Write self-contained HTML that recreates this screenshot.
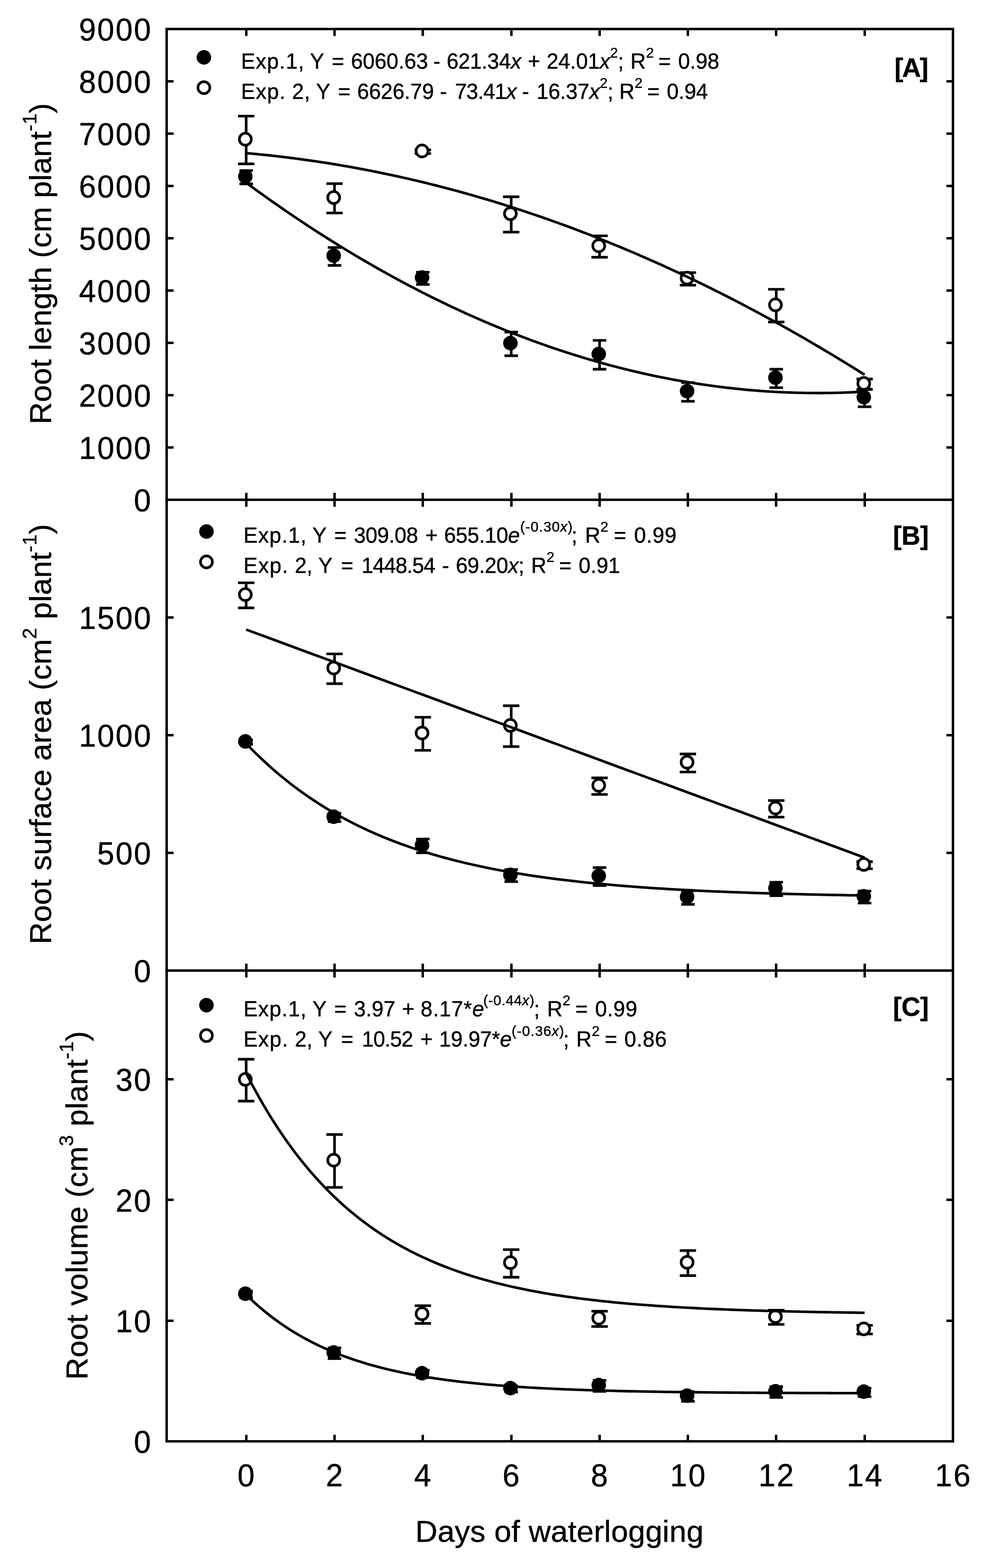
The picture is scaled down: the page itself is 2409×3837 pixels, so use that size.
<!DOCTYPE html>
<html lang="en"><head><meta charset="utf-8"><title>Root traits versus days of waterlogging</title>
<style>html,body{margin:0;padding:0;background:#fff}svg{display:block}text{font-family:"Liberation Sans",Arial,Helvetica,sans-serif;fill:#000;stroke:#000;stroke-width:0.6px;stroke-linejoin:round}.i{font-style:italic}.b{font-weight:bold}</style></head><body>
<svg width="2409" height="3837" viewBox="0 0 2409 3837">
<rect width="2409" height="3837" fill="#fff"/>
<g id="panelA">
<path d="M602.66 417.4V450M586.16 417.4H619.16M586.16 450H619.16M818.96 605.6V649.5M802.46 605.6H835.46M802.46 649.5H835.46M1035.25 666.1V696M1018.75 666.1H1051.75M1018.75 696H1051.75M1251.54 812.6V870.5M1235.04 812.6H1268.04M1235.04 870.5H1268.04M1467.83 832.9V903.5M1451.33 832.9H1484.33M1451.33 903.5H1484.33M1684.12 936.1V982M1667.62 936.1H1700.62M1667.62 982H1700.62M1900.42 903.5V948.6M1883.92 903.5H1916.92M1883.92 948.6H1916.92M2116.71 952V995.4M2100.21 952H2133.21M2100.21 995.4H2133.21" fill="none" stroke="#000" stroke-width="6.4"/>
<circle cx="600.66" cy="431.8" r="17.8" fill="#000"/>
<circle cx="816.96" cy="625.65" r="17.8" fill="#000"/>
<circle cx="1033.25" cy="679.15" r="17.8" fill="#000"/>
<circle cx="1249.54" cy="839.65" r="17.8" fill="#000"/>
<circle cx="1465.83" cy="866.3" r="17.8" fill="#000"/>
<circle cx="1682.12" cy="957.15" r="17.8" fill="#000"/>
<circle cx="1898.42" cy="924.15" r="17.8" fill="#000"/>
<circle cx="2114.71" cy="971.8" r="17.8" fill="#000"/>
<path d="M602.66 284.1V401M582.66 284.1H622.66M582.66 401H622.66M818.96 449.4V521.1M798.96 449.4H838.96M798.96 521.1H838.96M1035.25 366.8V375.8M1015.25 366.8H1055.25M1015.25 375.8H1055.25M1251.54 481.5V568M1231.54 481.5H1271.54M1231.54 568H1271.54M1467.83 577.1V629.5M1447.83 577.1H1487.83M1447.83 629.5H1487.83M1684.12 667.1V697.9M1664.12 667.1H1704.12M1664.12 697.9H1704.12M1900.42 707.9V788M1880.42 707.9H1920.42M1880.42 788H1920.42M2116.71 927.5V953M2096.71 927.5H2136.71M2096.71 953H2136.71" fill="none" stroke="#000" stroke-width="6.4"/>
<circle cx="600.66" cy="340.65" r="14.55" fill="#fff" stroke="#000" stroke-width="6.5"/>
<circle cx="816.96" cy="483.35" r="14.55" fill="#fff" stroke="#000" stroke-width="6.5"/>
<circle cx="1033.25" cy="369.4" r="14.55" fill="#fff" stroke="#000" stroke-width="6.5"/>
<circle cx="1249.54" cy="522.85" r="14.55" fill="#fff" stroke="#000" stroke-width="6.5"/>
<circle cx="1465.83" cy="601.4" r="14.55" fill="#fff" stroke="#000" stroke-width="6.5"/>
<circle cx="1682.12" cy="680.6" r="14.55" fill="#fff" stroke="#000" stroke-width="6.5"/>
<circle cx="1898.42" cy="746.05" r="14.55" fill="#fff" stroke="#000" stroke-width="6.5"/>
<circle cx="2114.71" cy="938.35" r="14.55" fill="#fff" stroke="#000" stroke-width="6.5"/>
<polyline points="602.66,447.24 613.48,455.16 624.29,463.02 635.11,470.82 645.92,478.56 656.74,486.24 667.55,493.85 678.37,501.41 689.18,508.9 699.99,516.33 710.81,523.7 721.62,531.01 732.44,538.25 743.25,545.44 754.07,552.56 764.88,559.62 775.7,566.62 786.51,573.56 797.33,580.44 808.14,587.25 818.96,594.01 829.77,600.7 840.58,607.33 851.4,613.9 862.21,620.41 873.03,626.86 883.84,633.25 894.66,639.57 905.47,645.83 916.29,652.03 927.1,658.17 937.92,664.25 948.73,670.27 959.54,676.23 970.36,682.12 981.17,687.95 991.99,693.72 1002.8,699.43 1013.62,705.08 1024.43,710.67 1035.25,716.19 1046.06,721.66 1056.88,727.06 1067.69,732.4 1078.51,737.68 1089.32,742.9 1100.13,748.05 1110.95,753.15 1121.76,758.18 1132.58,763.15 1143.39,768.06 1154.21,772.91 1165.02,777.7 1175.84,782.43 1186.65,787.09 1197.47,791.7 1208.28,796.24 1219.1,800.72 1229.91,805.14 1240.72,809.49 1251.54,813.79 1262.35,818.02 1273.17,822.2 1283.98,826.31 1294.8,830.36 1305.61,834.35 1316.43,838.28 1327.24,842.14 1338.06,845.95 1348.87,849.69 1359.69,853.37 1370.5,856.99 1381.31,860.55 1392.13,864.04 1402.94,867.48 1413.76,870.85 1424.57,874.17 1435.39,877.42 1446.2,880.61 1457.02,883.73 1467.83,886.8 1478.65,889.81 1489.46,892.75 1500.28,895.63 1511.09,898.45 1521.9,901.21 1532.72,903.91 1543.53,906.55 1554.35,909.12 1565.16,911.64 1575.98,914.09 1586.79,916.48 1597.61,918.81 1608.42,921.07 1619.24,923.28 1630.05,925.43 1640.87,927.51 1651.68,929.53 1662.49,931.49 1673.31,933.39 1684.12,935.23 1694.94,937 1705.75,938.72 1716.57,940.37 1727.38,941.96 1738.2,943.49 1749.01,944.96 1759.83,946.37 1770.64,947.71 1781.46,949 1792.27,950.22 1803.08,951.38 1813.9,952.48 1824.71,953.52 1835.53,954.5 1846.34,955.41 1857.16,956.26 1867.97,957.06 1878.79,957.79 1889.6,958.46 1900.42,959.07 1911.23,959.61 1922.04,960.1 1932.86,960.52 1943.67,960.88 1954.49,961.18 1965.3,961.42 1976.12,961.6 1986.93,961.72 1997.75,961.77 2008.56,961.76 2019.38,961.7 2030.19,961.57 2041.01,961.38 2051.82,961.12 2062.63,960.81 2073.45,960.43 2084.26,960 2095.08,959.5 2105.89,958.94 2116.71,958.32" fill="none" stroke="#000" stroke-width="6.3" stroke-linejoin="round"/>
<polyline points="602.66,374.77 613.48,375.73 624.29,376.73 635.11,377.78 645.92,378.86 656.74,379.99 667.55,381.16 678.37,382.38 689.18,383.63 699.99,384.92 710.81,386.26 721.62,387.64 732.44,389.06 743.25,390.53 754.07,392.03 764.88,393.58 775.7,395.17 786.51,396.8 797.33,398.47 808.14,400.19 818.96,401.95 829.77,403.74 840.58,405.58 851.4,407.47 862.21,409.39 873.03,411.36 883.84,413.37 894.66,415.42 905.47,417.51 916.29,419.64 927.1,421.82 937.92,424.04 948.73,426.3 959.54,428.6 970.36,430.94 981.17,433.33 991.99,435.75 1002.8,438.22 1013.62,440.73 1024.43,443.29 1035.25,445.88 1046.06,448.52 1056.88,451.2 1067.69,453.92 1078.51,456.68 1089.32,459.49 1100.13,462.33 1110.95,465.22 1121.76,468.15 1132.58,471.12 1143.39,474.14 1154.21,477.19 1165.02,480.29 1175.84,483.43 1186.65,486.61 1197.47,489.84 1208.28,493.1 1219.1,496.41 1229.91,499.76 1240.72,503.15 1251.54,506.58 1262.35,510.06 1273.17,513.57 1283.98,517.13 1294.8,520.73 1305.61,524.38 1316.43,528.06 1327.24,531.79 1338.06,535.56 1348.87,539.37 1359.69,543.22 1370.5,547.11 1381.31,551.05 1392.13,555.03 1402.94,559.05 1413.76,563.11 1424.57,567.21 1435.39,571.36 1446.2,575.55 1457.02,579.77 1467.83,584.05 1478.65,588.36 1489.46,592.71 1500.28,597.11 1511.09,601.55 1521.9,606.03 1532.72,610.55 1543.53,615.12 1554.35,619.72 1565.16,624.37 1575.98,629.06 1586.79,633.8 1597.61,638.57 1608.42,643.39 1619.24,648.24 1630.05,653.14 1640.87,658.09 1651.68,663.07 1662.49,668.09 1673.31,673.16 1684.12,678.27 1694.94,683.42 1705.75,688.62 1716.57,693.85 1727.38,699.13 1738.2,704.45 1749.01,709.81 1759.83,715.21 1770.64,720.66 1781.46,726.14 1792.27,731.67 1803.08,737.24 1813.9,742.85 1824.71,748.51 1835.53,754.2 1846.34,759.94 1857.16,765.72 1867.97,771.54 1878.79,777.41 1889.6,783.31 1900.42,789.26 1911.23,795.25 1922.04,801.28 1932.86,807.35 1943.67,813.47 1954.49,819.63 1965.3,825.83 1976.12,832.07 1986.93,838.35 1997.75,844.67 2008.56,851.04 2019.38,857.45 2030.19,863.9 2041.01,870.39 2051.82,876.93 2062.63,883.5 2073.45,890.12 2084.26,896.78 2095.08,903.48 2105.89,910.23 2116.71,917.01" fill="none" stroke="#000" stroke-width="6.3" stroke-linejoin="round"/>
</g>
<g id="panelB">
<path d="M602.66 1811.2V1821.2M586.16 1811.2H619.16M586.16 1821.2H619.16M818.96 1990.3V2010.5M802.46 1990.3H835.46M802.46 2010.5H835.46M1035.25 2053.2V2086.9M1018.75 2053.2H1051.75M1018.75 2086.9H1051.75M1251.54 2128V2157.4M1235.04 2128H1268.04M1235.04 2157.4H1268.04M1467.83 2123V2167M1451.33 2123H1484.33M1451.33 2167H1484.33M1684.12 2180V2213M1667.62 2180H1700.62M1667.62 2213H1700.62M1900.42 2158.9V2191.9M1883.92 2158.9H1916.92M1883.92 2191.9H1916.92M2116.71 2180.5V2209.9M2100.21 2180.5H2133.21M2100.21 2209.9H2133.21" fill="none" stroke="#000" stroke-width="6.4"/>
<circle cx="600.66" cy="1814.3" r="17.8" fill="#000"/>
<circle cx="816.96" cy="1998.5" r="17.8" fill="#000"/>
<circle cx="1033.25" cy="2068.15" r="17.8" fill="#000"/>
<circle cx="1249.54" cy="2140.8" r="17.8" fill="#000"/>
<circle cx="1465.83" cy="2143.1" r="17.8" fill="#000"/>
<circle cx="1682.12" cy="2194.6" r="17.8" fill="#000"/>
<circle cx="1898.42" cy="2173.5" r="17.8" fill="#000"/>
<circle cx="2114.71" cy="2193.3" r="17.8" fill="#000"/>
<path d="M602.66 1426.1V1487.5M582.66 1426.1H622.66M582.66 1487.5H622.66M818.96 1600.1V1673M798.96 1600.1H838.96M798.96 1673H838.96M1035.25 1755.1V1836.1M1015.25 1755.1H1055.25M1015.25 1836.1H1055.25M1251.54 1727V1827M1231.54 1727H1271.54M1231.54 1827H1271.54M1467.83 1903.5V1944M1447.83 1903.5H1487.83M1447.83 1944H1487.83M1684.12 1845V1889.1M1664.12 1845H1704.12M1664.12 1889.1H1704.12M1900.42 1959V1999.5M1880.42 1959H1920.42M1880.42 1999.5H1920.42M2116.71 2108.5V2125.9M2096.71 2108.5H2136.71M2096.71 2125.9H2136.71" fill="none" stroke="#000" stroke-width="6.4"/>
<circle cx="600.66" cy="1454.9" r="14.55" fill="#fff" stroke="#000" stroke-width="6.5"/>
<circle cx="816.96" cy="1634.65" r="14.55" fill="#fff" stroke="#000" stroke-width="6.5"/>
<circle cx="1033.25" cy="1793.7" r="14.55" fill="#fff" stroke="#000" stroke-width="6.5"/>
<circle cx="1249.54" cy="1775.1" r="14.55" fill="#fff" stroke="#000" stroke-width="6.5"/>
<circle cx="1465.83" cy="1921.85" r="14.55" fill="#fff" stroke="#000" stroke-width="6.5"/>
<circle cx="1682.12" cy="1865.15" r="14.55" fill="#fff" stroke="#000" stroke-width="6.5"/>
<circle cx="1898.42" cy="1977.35" r="14.55" fill="#fff" stroke="#000" stroke-width="6.5"/>
<circle cx="2114.71" cy="2115.3" r="14.55" fill="#fff" stroke="#000" stroke-width="6.5"/>
<polyline points="602.66,1819.63 613.48,1830.78 624.29,1841.61 635.11,1852.11 645.92,1862.3 656.74,1872.19 667.55,1881.79 678.37,1891.11 689.18,1900.15 699.99,1908.92 710.81,1917.43 721.62,1925.69 732.44,1933.71 743.25,1941.49 754.07,1949.04 764.88,1956.37 775.7,1963.48 786.51,1970.38 797.33,1977.08 808.14,1983.58 818.96,1989.88 829.77,1996 840.58,2001.94 851.4,2007.71 862.21,2013.3 873.03,2018.73 883.84,2024 894.66,2029.11 905.47,2034.07 916.29,2038.88 927.1,2043.56 937.92,2048.09 948.73,2052.49 959.54,2056.76 970.36,2060.9 981.17,2064.93 991.99,2068.83 1002.8,2072.61 1013.62,2076.29 1024.43,2079.86 1035.25,2083.32 1046.06,2086.68 1056.88,2089.94 1067.69,2093.1 1078.51,2096.17 1089.32,2099.15 1100.13,2102.04 1110.95,2104.85 1121.76,2107.57 1132.58,2110.21 1143.39,2112.77 1154.21,2115.26 1165.02,2117.68 1175.84,2120.02 1186.65,2122.3 1197.47,2124.5 1208.28,2126.64 1219.1,2128.72 1229.91,2130.74 1240.72,2132.7 1251.54,2134.6 1262.35,2136.44 1273.17,2138.23 1283.98,2139.96 1294.8,2141.65 1305.61,2143.28 1316.43,2144.87 1327.24,2146.41 1338.06,2147.91 1348.87,2149.36 1359.69,2150.76 1370.5,2152.13 1381.31,2153.45 1392.13,2154.74 1402.94,2155.99 1413.76,2157.2 1424.57,2158.37 1435.39,2159.51 1446.2,2160.62 1457.02,2161.7 1467.83,2162.74 1478.65,2163.75 1489.46,2164.73 1500.28,2165.68 1511.09,2166.61 1521.9,2167.51 1532.72,2168.38 1543.53,2169.22 1554.35,2170.04 1565.16,2170.84 1575.98,2171.61 1586.79,2172.36 1597.61,2173.09 1608.42,2173.79 1619.24,2174.48 1630.05,2175.14 1640.87,2175.79 1651.68,2176.41 1662.49,2177.02 1673.31,2177.61 1684.12,2178.18 1694.94,2178.74 1705.75,2179.28 1716.57,2179.8 1727.38,2180.31 1738.2,2180.8 1749.01,2181.28 1759.83,2181.74 1770.64,2182.19 1781.46,2182.63 1792.27,2183.05 1803.08,2183.46 1813.9,2183.86 1824.71,2184.25 1835.53,2184.63 1846.34,2184.99 1857.16,2185.35 1867.97,2185.69 1878.79,2186.02 1889.6,2186.35 1900.42,2186.66 1911.23,2186.96 1922.04,2187.26 1932.86,2187.55 1943.67,2187.83 1954.49,2188.1 1965.3,2188.36 1976.12,2188.61 1986.93,2188.86 1997.75,2189.1 2008.56,2189.33 2019.38,2189.56 2030.19,2189.78 2041.01,2189.99 2051.82,2190.2 2062.63,2190.4 2073.45,2190.59 2084.26,2190.78 2095.08,2190.96 2105.89,2191.14 2116.71,2191.31" fill="none" stroke="#000" stroke-width="6.3" stroke-linejoin="round"/>
<polyline points="602.66,1540.64 613.48,1544.63 624.29,1548.61 635.11,1552.6 645.92,1556.58 656.74,1560.57 667.55,1564.56 678.37,1568.54 689.18,1572.53 699.99,1576.51 710.81,1580.5 721.62,1584.49 732.44,1588.47 743.25,1592.46 754.07,1596.44 764.88,1600.43 775.7,1604.42 786.51,1608.4 797.33,1612.39 808.14,1616.37 818.96,1620.36 829.77,1624.35 840.58,1628.33 851.4,1632.32 862.21,1636.3 873.03,1640.29 883.84,1644.27 894.66,1648.26 905.47,1652.25 916.29,1656.23 927.1,1660.22 937.92,1664.2 948.73,1668.19 959.54,1672.18 970.36,1676.16 981.17,1680.15 991.99,1684.13 1002.8,1688.12 1013.62,1692.11 1024.43,1696.09 1035.25,1700.08 1046.06,1704.06 1056.88,1708.05 1067.69,1712.04 1078.51,1716.02 1089.32,1720.01 1100.13,1723.99 1110.95,1727.98 1121.76,1731.97 1132.58,1735.95 1143.39,1739.94 1154.21,1743.92 1165.02,1747.91 1175.84,1751.89 1186.65,1755.88 1197.47,1759.87 1208.28,1763.85 1219.1,1767.84 1229.91,1771.82 1240.72,1775.81 1251.54,1779.8 1262.35,1783.78 1273.17,1787.77 1283.98,1791.75 1294.8,1795.74 1305.61,1799.73 1316.43,1803.71 1327.24,1807.7 1338.06,1811.68 1348.87,1815.67 1359.69,1819.66 1370.5,1823.64 1381.31,1827.63 1392.13,1831.61 1402.94,1835.6 1413.76,1839.58 1424.57,1843.57 1435.39,1847.56 1446.2,1851.54 1457.02,1855.53 1467.83,1859.51 1478.65,1863.5 1489.46,1867.49 1500.28,1871.47 1511.09,1875.46 1521.9,1879.44 1532.72,1883.43 1543.53,1887.42 1554.35,1891.4 1565.16,1895.39 1575.98,1899.37 1586.79,1903.36 1597.61,1907.35 1608.42,1911.33 1619.24,1915.32 1630.05,1919.3 1640.87,1923.29 1651.68,1927.28 1662.49,1931.26 1673.31,1935.25 1684.12,1939.23 1694.94,1943.22 1705.75,1947.2 1716.57,1951.19 1727.38,1955.18 1738.2,1959.16 1749.01,1963.15 1759.83,1967.13 1770.64,1971.12 1781.46,1975.11 1792.27,1979.09 1803.08,1983.08 1813.9,1987.06 1824.71,1991.05 1835.53,1995.04 1846.34,1999.02 1857.16,2003.01 1867.97,2006.99 1878.79,2010.98 1889.6,2014.97 1900.42,2018.95 1911.23,2022.94 1922.04,2026.92 1932.86,2030.91 1943.67,2034.9 1954.49,2038.88 1965.3,2042.87 1976.12,2046.85 1986.93,2050.84 1997.75,2054.82 2008.56,2058.81 2019.38,2062.8 2030.19,2066.78 2041.01,2070.77 2051.82,2074.75 2062.63,2078.74 2073.45,2082.73 2084.26,2086.71 2095.08,2090.7 2105.89,2094.68 2116.71,2098.67" fill="none" stroke="#000" stroke-width="6.3" stroke-linejoin="round"/>
</g>
<g id="panelC">
<path d="M602.66 3159.7V3175.7M586.16 3159.7H619.16M586.16 3175.7H619.16M818.96 3298.4V3324.6M802.46 3298.4H835.46M802.46 3324.6H835.46M1035.25 3353.2V3371.4M1018.75 3353.2H1051.75M1018.75 3371.4H1051.75M1251.54 3391.3V3406.3M1235.04 3391.3H1268.04M1235.04 3406.3H1268.04M1467.83 3377.9V3404.7M1451.33 3377.9H1484.33M1451.33 3404.7H1484.33M1684.12 3405.4V3429M1667.62 3405.4H1700.62M1667.62 3429H1700.62M1900.42 3393.3V3419.5M1883.92 3393.3H1916.92M1883.92 3419.5H1916.92M2116.71 3397V3417.6M2100.21 3397H2133.21M2100.21 3417.6H2133.21" fill="none" stroke="#000" stroke-width="6.4"/>
<circle cx="600.66" cy="3165.8" r="17.8" fill="#000"/>
<circle cx="816.96" cy="3309.6" r="17.8" fill="#000"/>
<circle cx="1033.25" cy="3360.4" r="17.8" fill="#000"/>
<circle cx="1249.54" cy="3396.9" r="17.8" fill="#000"/>
<circle cx="1465.83" cy="3389.4" r="17.8" fill="#000"/>
<circle cx="1682.12" cy="3415.3" r="17.8" fill="#000"/>
<circle cx="1898.42" cy="3404.5" r="17.8" fill="#000"/>
<circle cx="2114.71" cy="3405.4" r="17.8" fill="#000"/>
<path d="M602.66 2592V2694.5M582.66 2592H622.66M582.66 2694.5H622.66M818.96 2776.2V2905.6M798.96 2776.2H838.96M798.96 2905.6H838.96M1035.25 3195.1V3238.5M1015.25 3195.1H1055.25M1015.25 3238.5H1055.25M1251.54 3057.9V3125.5M1231.54 3057.9H1271.54M1231.54 3125.5H1271.54M1467.83 3208.6V3246M1447.83 3208.6H1487.83M1447.83 3246H1487.83M1684.12 3060.2V3121.5M1664.12 3060.2H1704.12M1664.12 3121.5H1704.12M1900.42 3206.3V3240.9M1880.42 3206.3H1920.42M1880.42 3240.9H1920.42M2116.71 3243.1V3264.4M2096.71 3243.1H2136.71M2096.71 3264.4H2136.71" fill="none" stroke="#000" stroke-width="6.4"/>
<circle cx="600.66" cy="2641.35" r="14.55" fill="#fff" stroke="#000" stroke-width="6.5"/>
<circle cx="816.96" cy="2839" r="14.55" fill="#fff" stroke="#000" stroke-width="6.5"/>
<circle cx="1033.25" cy="3214.9" r="14.55" fill="#fff" stroke="#000" stroke-width="6.5"/>
<circle cx="1249.54" cy="3089.8" r="14.55" fill="#fff" stroke="#000" stroke-width="6.5"/>
<circle cx="1465.83" cy="3225.4" r="14.55" fill="#fff" stroke="#000" stroke-width="6.5"/>
<circle cx="1682.12" cy="3088.95" r="14.55" fill="#fff" stroke="#000" stroke-width="6.5"/>
<circle cx="1898.42" cy="3221.7" r="14.55" fill="#fff" stroke="#000" stroke-width="6.5"/>
<circle cx="2114.71" cy="3251.85" r="14.55" fill="#fff" stroke="#000" stroke-width="6.5"/>
<polyline points="602.66,3168.4 613.48,3178.79 624.29,3188.73 635.11,3198.25 645.92,3207.35 656.74,3216.06 667.55,3224.4 678.37,3232.38 689.18,3240.01 699.99,3247.32 710.81,3254.31 721.62,3261 732.44,3267.4 743.25,3273.53 754.07,3279.39 764.88,3285 775.7,3290.37 786.51,3295.51 797.33,3300.43 808.14,3305.13 818.96,3309.63 829.77,3313.94 840.58,3318.07 851.4,3322.01 862.21,3325.79 873.03,3329.4 883.84,3332.86 894.66,3336.17 905.47,3339.33 916.29,3342.36 927.1,3345.26 937.92,3348.04 948.73,3350.7 959.54,3353.24 970.36,3355.67 981.17,3358 991.99,3360.22 1002.8,3362.35 1013.62,3364.39 1024.43,3366.35 1035.25,3368.21 1046.06,3370 1056.88,3371.71 1067.69,3373.35 1078.51,3374.91 1089.32,3376.41 1100.13,3377.85 1110.95,3379.22 1121.76,3380.53 1132.58,3381.79 1143.39,3382.99 1154.21,3384.14 1165.02,3385.24 1175.84,3386.3 1186.65,3387.31 1197.47,3388.27 1208.28,3389.2 1219.1,3390.08 1229.91,3390.93 1240.72,3391.74 1251.54,3392.51 1262.35,3393.25 1273.17,3393.96 1283.98,3394.64 1294.8,3395.29 1305.61,3395.91 1316.43,3396.51 1327.24,3397.08 1338.06,3397.62 1348.87,3398.14 1359.69,3398.64 1370.5,3399.12 1381.31,3399.58 1392.13,3400.01 1402.94,3400.43 1413.76,3400.83 1424.57,3401.21 1435.39,3401.58 1446.2,3401.93 1457.02,3402.27 1467.83,3402.59 1478.65,3402.9 1489.46,3403.19 1500.28,3403.47 1511.09,3403.74 1521.9,3404 1532.72,3404.25 1543.53,3404.48 1554.35,3404.71 1565.16,3404.92 1575.98,3405.13 1586.79,3405.33 1597.61,3405.52 1608.42,3405.7 1619.24,3405.87 1630.05,3406.04 1640.87,3406.2 1651.68,3406.35 1662.49,3406.5 1673.31,3406.64 1684.12,3406.77 1694.94,3406.9 1705.75,3407.02 1716.57,3407.14 1727.38,3407.25 1738.2,3407.35 1749.01,3407.46 1759.83,3407.55 1770.64,3407.65 1781.46,3407.74 1792.27,3407.82 1803.08,3407.91 1813.9,3407.98 1824.71,3408.06 1835.53,3408.13 1846.34,3408.2 1857.16,3408.27 1867.97,3408.33 1878.79,3408.39 1889.6,3408.45 1900.42,3408.5 1911.23,3408.56 1922.04,3408.61 1932.86,3408.66 1943.67,3408.7 1954.49,3408.75 1965.3,3408.79 1976.12,3408.83 1986.93,3408.87 1997.75,3408.91 2008.56,3408.94 2019.38,3408.97 2030.19,3409.01 2041.01,3409.04 2051.82,3409.07 2062.63,3409.1 2073.45,3409.12 2084.26,3409.15 2095.08,3409.18 2105.89,3409.2 2116.71,3409.22" fill="none" stroke="#000" stroke-width="6.3" stroke-linejoin="round"/>
<polyline points="602.66,2626.37 613.48,2647.23 624.29,2667.35 635.11,2686.76 645.92,2705.48 656.74,2723.54 667.55,2740.97 678.37,2757.77 689.18,2773.98 699.99,2789.62 710.81,2804.71 721.62,2819.26 732.44,2833.3 743.25,2846.84 754.07,2859.9 764.88,2872.5 775.7,2884.66 786.51,2896.38 797.33,2907.69 808.14,2918.6 818.96,2929.13 829.77,2939.28 840.58,2949.07 851.4,2958.52 862.21,2967.64 873.03,2976.43 883.84,2984.91 894.66,2993.09 905.47,3000.98 916.29,3008.59 927.1,3015.93 937.92,3023.02 948.73,3029.85 959.54,3036.44 970.36,3042.8 981.17,3048.93 991.99,3054.85 1002.8,3060.56 1013.62,3066.06 1024.43,3071.37 1035.25,3076.5 1046.06,3081.44 1056.88,3086.2 1067.69,3090.8 1078.51,3095.24 1089.32,3099.52 1100.13,3103.65 1110.95,3107.63 1121.76,3111.47 1132.58,3115.17 1143.39,3118.75 1154.21,3122.2 1165.02,3125.52 1175.84,3128.73 1186.65,3131.83 1197.47,3134.81 1208.28,3137.69 1219.1,3140.47 1229.91,3143.15 1240.72,3145.73 1251.54,3148.23 1262.35,3150.63 1273.17,3152.95 1283.98,3155.19 1294.8,3157.35 1305.61,3159.43 1316.43,3161.44 1327.24,3163.38 1338.06,3165.25 1348.87,3167.05 1359.69,3168.79 1370.5,3170.47 1381.31,3172.09 1392.13,3173.65 1402.94,3175.16 1413.76,3176.61 1424.57,3178.01 1435.39,3179.37 1446.2,3180.67 1457.02,3181.93 1467.83,3183.14 1478.65,3184.31 1489.46,3185.44 1500.28,3186.53 1511.09,3187.58 1521.9,3188.6 1532.72,3189.58 1543.53,3190.52 1554.35,3191.43 1565.16,3192.31 1575.98,3193.15 1586.79,3193.97 1597.61,3194.76 1608.42,3195.52 1619.24,3196.25 1630.05,3196.96 1640.87,3197.64 1651.68,3198.3 1662.49,3198.93 1673.31,3199.55 1684.12,3200.14 1694.94,3200.71 1705.75,3201.26 1716.57,3201.79 1727.38,3202.3 1738.2,3202.79 1749.01,3203.27 1759.83,3203.73 1770.64,3204.17 1781.46,3204.6 1792.27,3205.01 1803.08,3205.41 1813.9,3205.79 1824.71,3206.16 1835.53,3206.52 1846.34,3206.86 1857.16,3207.19 1867.97,3207.52 1878.79,3207.82 1889.6,3208.12 1900.42,3208.41 1911.23,3208.69 1922.04,3208.96 1932.86,3209.21 1943.67,3209.46 1954.49,3209.7 1965.3,3209.93 1976.12,3210.16 1986.93,3210.37 1997.75,3210.58 2008.56,3210.78 2019.38,3210.98 2030.19,3211.16 2041.01,3211.34 2051.82,3211.52 2062.63,3211.68 2073.45,3211.85 2084.26,3212 2095.08,3212.15 2105.89,3212.3 2116.71,3212.44" fill="none" stroke="#000" stroke-width="6.3" stroke-linejoin="round"/>
</g>
<g id="axes" stroke="#000" fill="none" shape-rendering="crispEdges">
<path d="M408.0 68.0V3530.0M2333.0 68.0V3530.0" stroke-width="6.0"/>
<path d="M405.0 71.0H2336.0" stroke-width="6.0"/>
<path d="M405.0 1223.0H2336.0" stroke-width="6.0"/>
<path d="M405.0 2375.0H2336.0" stroke-width="6.0"/>
<path d="M405.0 3527.0H2336.0" stroke-width="6.0"/>
<path d="M602.66 71.0v17.0M602.66 1206.0v34.0M602.66 2358.0v34.0M602.66 3527.0v-16.5M818.96 71.0v17.0M818.96 1206.0v34.0M818.96 2358.0v34.0M818.96 3527.0v-16.5M1035.25 71.0v17.0M1035.25 1206.0v34.0M1035.25 2358.0v34.0M1035.25 3527.0v-16.5M1251.54 71.0v17.0M1251.54 1206.0v34.0M1251.54 2358.0v34.0M1251.54 3527.0v-16.5M1467.83 71.0v17.0M1467.83 1206.0v34.0M1467.83 2358.0v34.0M1467.83 3527.0v-16.5M1684.12 71.0v17.0M1684.12 1206.0v34.0M1684.12 2358.0v34.0M1684.12 3527.0v-16.5M1900.42 71.0v17.0M1900.42 1206.0v34.0M1900.42 2358.0v34.0M1900.42 3527.0v-16.5M2116.71 71.0v17.0M2116.71 1206.0v34.0M2116.71 2358.0v34.0M2116.71 3527.0v-16.5M408.0 1095h16.5M2333.0 1095h-16.5M408.0 967h16.5M2333.0 967h-16.5M408.0 839h16.5M2333.0 839h-16.5M408.0 711h16.5M2333.0 711h-16.5M408.0 583h16.5M2333.0 583h-16.5M408.0 455h16.5M2333.0 455h-16.5M408.0 327h16.5M2333.0 327h-16.5M408.0 199h16.5M2333.0 199h-16.5M408.0 2087h16.5M2333.0 2087h-16.5M408.0 1799h16.5M2333.0 1799h-16.5M408.0 1511h16.5M2333.0 1511h-16.5M408.0 3231.62h16.5M2333.0 3231.62h-16.5M408.0 2936.23h16.5M2333.0 2936.23h-16.5M408.0 2640.85h16.5M2333.0 2640.85h-16.5" stroke-width="6.0"/>
</g>
<g id="ticklabels" font-size="75.0" letter-spacing="3.1">
<text transform="translate(372.5 1251.44) scale(1 1.03)" text-anchor="end">0</text>
<text transform="translate(372.5 1123.44) scale(1 1.03)" text-anchor="end">1000</text>
<text transform="translate(372.5 995.44) scale(1 1.03)" text-anchor="end">2000</text>
<text transform="translate(372.5 867.44) scale(1 1.03)" text-anchor="end">3000</text>
<text transform="translate(372.5 739.44) scale(1 1.03)" text-anchor="end">4000</text>
<text transform="translate(372.5 611.44) scale(1 1.03)" text-anchor="end">5000</text>
<text transform="translate(372.5 483.44) scale(1 1.03)" text-anchor="end">6000</text>
<text transform="translate(372.5 355.44) scale(1 1.03)" text-anchor="end">7000</text>
<text transform="translate(372.5 227.44) scale(1 1.03)" text-anchor="end">8000</text>
<text transform="translate(372.5 99.44) scale(1 1.03)" text-anchor="end">9000</text>
<text transform="translate(372.5 2403.44) scale(1 1.03)" text-anchor="end">0</text>
<text transform="translate(372.5 2115.44) scale(1 1.03)" text-anchor="end">500</text>
<text transform="translate(372.5 1827.44) scale(1 1.03)" text-anchor="end">1000</text>
<text transform="translate(372.5 1539.44) scale(1 1.03)" text-anchor="end">1500</text>
<text transform="translate(372.5 3555.44) scale(1 1.03)" text-anchor="end">0</text>
<text transform="translate(372.5 3260.05) scale(1 1.03)" text-anchor="end">10</text>
<text transform="translate(372.5 2964.67) scale(1 1.03)" text-anchor="end">20</text>
<text transform="translate(372.5 2669.28) scale(1 1.03)" text-anchor="end">30</text>
<text transform="translate(603.81 3637.2) scale(1 1.03)" text-anchor="middle">0</text>
<text transform="translate(820.11 3637.2) scale(1 1.03)" text-anchor="middle">2</text>
<text transform="translate(1036.4 3637.2) scale(1 1.03)" text-anchor="middle">4</text>
<text transform="translate(1252.69 3637.2) scale(1 1.03)" text-anchor="middle">6</text>
<text transform="translate(1468.98 3637.2) scale(1 1.03)" text-anchor="middle">8</text>
<text transform="translate(1685.27 3637.2) scale(1 1.03)" text-anchor="middle">10</text>
<text transform="translate(1901.57 3637.2) scale(1 1.03)" text-anchor="middle">12</text>
<text transform="translate(2117.86 3637.2) scale(1 1.03)" text-anchor="middle">14</text>
<text transform="translate(2334.15 3637.2) scale(1 1.03)" text-anchor="middle">16</text>
</g>
<g id="titles" font-size="75.0">
<text transform="translate(1369.8 3772.9) scale(1 1.0)" text-anchor="middle" letter-spacing="0.28">Days of waterlogging</text>
<text transform="translate(124.7 645.3) rotate(-90) scale(1 1.0)" text-anchor="middle" letter-spacing="0.2">Root length (cm plant<tspan font-size="48.75" dy="-35.5">-1</tspan><tspan dy="35.5">)</tspan></text>
<text transform="translate(124.7 1796.5) rotate(-90) scale(1 1.0)" text-anchor="middle" letter-spacing="0.25">Root surface area (cm<tspan font-size="48.75" dy="-35.5">2</tspan><tspan dy="35.5"> plant</tspan><tspan font-size="48.75" dy="-35.5">-1</tspan><tspan dy="35.5">)</tspan></text>
<text transform="translate(214.0 2949.5) rotate(-90) scale(1 1.0)" text-anchor="middle" letter-spacing="0.3">Root volume (cm<tspan font-size="48.75" dy="-35.5">3</tspan><tspan dy="35.5"> plant</tspan><tspan font-size="48.75" dy="-35.5">-1</tspan><tspan dy="35.5">)</tspan></text>
</g>
<g id="legend" font-size="52.0">
<circle cx="499.2" cy="140.4" r="17.8" fill="#000"/>
<circle cx="499.2" cy="214.5" r="14.55" fill="#fff" stroke="#000" stroke-width="6.5"/>
<text transform="translate(0 167.9) scale(1 1.03)" xml:space="preserve"><tspan x="589.9" y="0" letter-spacing="1.44">Exp.1,</tspan> <tspan x="758.9" y="0">Y</tspan> <tspan x="812.2" y="0">=</tspan> <tspan x="859.2" y="0" letter-spacing="0.14">6060.63</tspan> <tspan x="1060.7" y="0">-</tspan> <tspan x="1093.4" y="0" letter-spacing="-0.37">621.34<tspan class="i">x</tspan></tspan> <tspan x="1292.2" y="0">+</tspan> <tspan x="1338.3" y="0" letter-spacing="-0.13">24.01<tspan class="i">x</tspan><tspan font-size="34.58" dy="-26.0">2</tspan><tspan dy="26.0">;</tspan></tspan> <tspan x="1543.6" y="0" letter-spacing="0.3">R<tspan font-size="34.58" dy="-26.0">2</tspan></tspan> <tspan x="1612" y="0">=</tspan> <tspan x="1660.3" y="0" letter-spacing="-0.17">0.98</tspan></text>
<text transform="translate(0 241.6) scale(1 1.03)" xml:space="preserve"><tspan x="589.9" y="0" letter-spacing="1.6">Exp.</tspan> <tspan x="715" y="0" letter-spacing="0.8">2,</tspan> <tspan x="774" y="0">Y</tspan> <tspan x="827.5" y="0">=</tspan> <tspan x="874.5" y="0">6626.79</tspan> <tspan x="1076.9" y="0">-</tspan> <tspan x="1113.9" y="0" letter-spacing="-0.98">73.41<tspan class="i">x</tspan></tspan> <tspan x="1277.9" y="0">-</tspan> <tspan x="1313.8" y="0" letter-spacing="-0.26">16.37<tspan class="i">x</tspan><tspan font-size="34.58" dy="-26.0">2</tspan><tspan dy="26.0">;</tspan></tspan> <tspan x="1516" y="0" letter-spacing="0.3">R<tspan font-size="34.58" dy="-26.0">2</tspan></tspan> <tspan x="1584.6" y="0">=</tspan> <tspan x="1632.6" y="0" letter-spacing="-0.17">0.94</tspan></text>
<circle cx="505.4" cy="1300.6" r="17.8" fill="#000"/>
<circle cx="505.4" cy="1375.0" r="14.55" fill="#fff" stroke="#000" stroke-width="6.5"/>
<text transform="translate(0 1327.9) scale(1 1.03)" xml:space="preserve"><tspan x="596.1" y="0" letter-spacing="1.32">Exp.1,</tspan> <tspan x="764.9" y="0">Y</tspan> <tspan x="818.2" y="0">=</tspan> <tspan x="866.4" y="0" letter-spacing="-0.36">309.08</tspan> <tspan x="1041.3" y="0">+</tspan> <tspan x="1087.2" y="0" letter-spacing="-0.4">655.10<tspan class="i">e</tspan></tspan><tspan x="1273.4" y="-26" font-size="34.58" letter-spacing="1.3">(-0.30<tspan class="i">x</tspan>)</tspan><tspan x="1399" y="0">;</tspan> <tspan x="1432.2" y="0" letter-spacing="0.3">R<tspan font-size="34.58" dy="-26.0">2</tspan></tspan> <tspan x="1503" y="0">=</tspan> <tspan x="1552.6" y="0" letter-spacing="0.84">0.99</tspan></text>
<text transform="translate(0 1401.6) scale(1 1.03)" xml:space="preserve"><tspan x="596.1" y="0" letter-spacing="1.6">Exp.</tspan> <tspan x="721.8" y="0" letter-spacing="-0.16">2,</tspan> <tspan x="779.3" y="0">Y</tspan> <tspan x="834.7" y="0">=</tspan> <tspan x="884.9" y="0" letter-spacing="-1.13">1448.54</tspan> <tspan x="1082.2" y="0">-</tspan> <tspan x="1115.9" y="0" letter-spacing="-0.46">69.20<tspan class="i">x</tspan>;</tspan> <tspan x="1300.2" y="0" letter-spacing="0.3">R<tspan font-size="34.58" dy="-26.0">2</tspan></tspan> <tspan x="1368.8" y="0">=</tspan> <tspan x="1416.8" y="0">0.91</tspan></text>
<circle cx="505.4" cy="2459.7" r="17.8" fill="#000"/>
<circle cx="505.4" cy="2534.1" r="14.55" fill="#fff" stroke="#000" stroke-width="6.5"/>
<text transform="translate(0 2486.9) scale(1 1.03)" xml:space="preserve"><tspan x="596.1" y="0" letter-spacing="1.32">Exp.1,</tspan> <tspan x="764.9" y="0">Y</tspan> <tspan x="818.2" y="0">=</tspan> <tspan x="866.4" y="0" letter-spacing="0.09">3.97</tspan> <tspan x="984.2" y="0">+</tspan> <tspan x="1029.8" y="0" letter-spacing="1">8.17*<tspan class="i">e</tspan></tspan><tspan x="1183.2" y="-26" font-size="34.58" letter-spacing="0.8">(-0.44<tspan class="i">x</tspan>)</tspan><tspan x="1307" y="0">;</tspan> <tspan x="1339.5" y="0" letter-spacing="0.3">R<tspan font-size="34.58" dy="-26.0">2</tspan></tspan> <tspan x="1408.4" y="0">=</tspan> <tspan x="1457" y="0" letter-spacing="0.63">0.99</tspan></text>
<text transform="translate(0 2561.3) scale(1 1.03)" xml:space="preserve"><tspan x="596.1" y="0" letter-spacing="1.6">Exp.</tspan> <tspan x="721.8" y="0" letter-spacing="-0.16">2,</tspan> <tspan x="779.3" y="0">Y</tspan> <tspan x="834.7" y="0">=</tspan> <tspan x="886.1" y="0" letter-spacing="-1.12">10.52</tspan> <tspan x="1029.1" y="0">+</tspan> <tspan x="1075" y="0" letter-spacing="-0.2">19.97*<tspan class="i">e</tspan></tspan><tspan x="1252.6" y="-26" font-size="34.58" letter-spacing="1.3">(-0.36<tspan class="i">x</tspan>)</tspan><tspan x="1379" y="0">;</tspan> <tspan x="1410.8" y="0" letter-spacing="0.3">R<tspan font-size="34.58" dy="-26.0">2</tspan></tspan> <tspan x="1480.4" y="0">=</tspan> <tspan x="1528.5" y="0" letter-spacing="0.84">0.86</tspan></text>
</g>
<g id="panellabels" font-size="64.0" class="b" text-anchor="middle">
<text class="b" transform="translate(2230.0 188.1) scale(1 1.02)" letter-spacing="-3.0">[A]</text>
<text class="b" transform="translate(2229.7999999999997 1333.1) scale(1 1.02)" letter-spacing="-0.6">[B]</text>
<text class="b" transform="translate(2229.7999999999997 2486.0) scale(1 1.02)" letter-spacing="-0.6">[C]</text>
</g>
</svg></body></html>
